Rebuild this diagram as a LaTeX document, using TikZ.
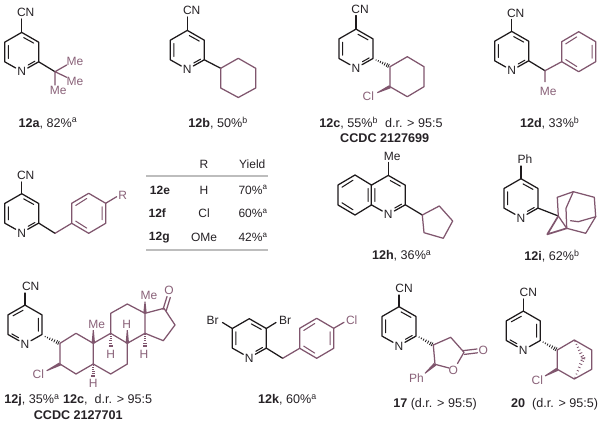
\documentclass[tikz,border=0pt]{standalone}
\usepackage{fontspec}
\setmainfont{Liberation Sans}
\definecolor{blk}{HTML}{1E1A1C}
\definecolor{mv}{HTML}{80566E}
\definecolor{mvt}{HTML}{8A6279}
\definecolor{rul}{HTML}{BDBDBD}
\definecolor{txt}{HTML}{262226}
\tikzset{
  x=1pt,y=-1pt,
  bd/.style={line width=1.25pt,blk,line cap=round,line join=round},
  ma/.style={line width=1.25pt,mv,line cap=round,line join=round},
  dbl/.style={line width=1.05pt,blk,line cap=round},
  mdbl/.style={line width=1.05pt,mv,line cap=round},
  at1/.style={inner sep=0pt,font=\fontsize{12}{14}\selectfont,text=txt},
  mat/.style={inner sep=0pt,font=\fontsize{12}{14}\selectfont,text=mvt},
  lab/.style={inner sep=0pt,font=\fontsize{12.6}{14}\selectfont,text=txt},
  rulel/.style={line width=1.6pt,rul},
}
\newcommand\spa[1]{\textsuperscript{#1}}
% pyridine ring, double bonds variant A
\newcommand\pyrA[3]{\begin{scope}[shift={(#2,#3)}]
  \draw[bd] (-6,16)--(-17,9.8)--(-17,-9.8)--(0,-19.6)--(17,-9.8)--(17,9.8)--(6,16);
  \draw[dbl] (2,-14.4)--(12,-8.9) (13.2,9.2)--(6.5,13) (-13.4,-6.5)--(-13.4,6.5);
  \node[at1] (#1) at (0,19.8) {N};
\end{scope}}
% variant B
\newcommand\pyrB[3]{\begin{scope}[shift={(#2,#3)}]
  \draw[bd] (-6,16)--(-17,9.8)--(-17,-9.8)--(0,-19.6)--(17,-9.8)--(17,9.8)--(6,16);
  \draw[dbl] (-2,-14.4)--(-12,-8.9) (-13.2,9.2)--(-6.5,13) (13.4,-6.5)--(13.4,6.5);
  \node[at1] (#1) at (0,19.8) {N};
\end{scope}}
% mauve benzene with inner bonds on UL, R and LL sides
\newcommand\phen[2]{\begin{scope}[shift={(#1,#2)}]
  \draw[ma] (-17,-10)--(0,-20)--(17,-10)--(17,10)--(0,20)--(-17,10)--cycle;
  \draw[mdbl] (-13,-7.8)--(-2,-14.8) (13.4,-6.5)--(13.4,6.5) (-13,7.8)--(-2,14.8);
\end{scope}}
% hashed bond
\newcommand\hb[5]{%
  \pgfmathsetmacro\hdx{#3-#1}\pgfmathsetmacro\hdy{#4-#2}\pgfmathsetmacro\hln{veclen(\hdx,\hdy)}
  \foreach \t in {0.08,0.24,0.40,0.56,0.72,0.88,1.0}{
    \pgfmathsetmacro\hw{0.5+1.5*\t}
    \pgfmathsetmacro\hpx{#1+\t*\hdx}\pgfmathsetmacro\hpy{#2+\t*\hdy}
    \pgfmathsetmacro\hnx{-\hdy/\hln*\hw}\pgfmathsetmacro\hny{\hdx/\hln*\hw}
    \draw[line width=.8pt,#5] ({\hpx+\hnx},{\hpy+\hny})--({\hpx-\hnx},{\hpy-\hny});
  }}
% solid wedge, narrow at first point
\newcommand\wb[5]{%
  \pgfmathsetmacro\hdx{#3-#1}\pgfmathsetmacro\hdy{#4-#2}\pgfmathsetmacro\hln{veclen(\hdx,\hdy)}
  \pgfmathsetmacro\hnx{-\hdy/\hln*1.7}\pgfmathsetmacro\hny{\hdx/\hln*1.7}
  \fill[#5] ({#1+.3*\hnx},{#2+.3*\hny})--({#3+\hnx},{#4+\hny})--({#3-\hnx},{#4-\hny})--({#1-.3*\hnx},{#2-.3*\hny})--cycle;}
\begin{document}
\begin{tikzpicture}
\useasboundingbox[fill=white] (0,0) rectangle (600,422);
% 12a
\pyrA{na}{21.7}{52}
\draw[bd] (21.7,32.4)--(21.7,19);
\node[at1] (cna) at (25.7,12.7) {CN};
\draw[bd] (38.7,61.8)--(55,71.7);
\draw[ma] (55,71.7)--(66.7,65) (55,71.7)--(66.7,77.3) (55,71.7)--(55,85);
\node[mat] (me1) at (75,61.7) {Me};
\node[mat] (me2) at (75,81.7) {Me};
\node[mat] (me3) at (58.3,90.7) {Me};
\node[lab] (la) at (48,123.3) {\textbf{12a}, 82\%\spa{a}};
% 12b
\pyrA{nb}{187.3}{50}
\draw[bd] (187.3,30.4)--(187.3,17);
\node[at1] (cnb) at (191.7,10.7) {CN};
\draw[bd] (204.3,59.8)--(220.7,68.3);
\draw[ma] (220.7,68.3)--(238.3,58.3)--(255.7,68.3)--(255.7,88)--(238.3,97.5)--(220.7,88)--cycle;
\node[lab] (lb) at (218,123.3) {\textbf{12b}, 50\%\spa{b}};
% 12c
\pyrA{nc}{356}{48.7}
\draw[bd] (356,29.1)--(356,15.5);
\node[at1] (cnc) at (360,9) {CN};
\hb{375}{59.5}{388.5}{65.8}{blk}
\draw[ma] (390,66.7)--(407.3,56.7)--(424,66.7)--(424,86.7)--(407.3,96.7)--(390,86.7)--cycle;
\wb{377.3}{92.7}{390}{86.7}{mv}
\node[mat] (clc) at (368.3,96) {Cl};
\node[lab] (lc) at (381,123.3) {\textbf{12c}, 55\%\spa{b}\ \ d.r. > 95:5};
\node[lab] (lc2) at (384.7,137.7) {\textbf{CCDC 2127699}};
% 12d
\pyrA{nd}{511.7}{51}
\draw[bd] (511.7,31.4)--(511.7,19.5);
\node[at1] (cnd) at (515.7,13.3) {CN};
\draw[bd] (528.7,60.8)--(545,70.7);
\draw[ma] (545,70.7)--(561.7,61.7) (545,70.7)--(545,81.7);
\node[mat] (med) at (548.3,91) {Me};
\phen{578.7}{51.7}
\node[lab] (ld) at (549.7,123.3) {\textbf{12d}, 33\%\spa{b}};
% 12e-g
\pyrA{ne}{21.7}{213.3}
\draw[bd] (21.7,193.7)--(21.7,182);
\node[at1] (cne) at (25.7,175.7) {CN};
\draw[bd] (38.7,223.1)--(55,233.3);
\draw[ma] (55,233.3)--(71.7,223.3);
\phen{88.7}{213.3}
\draw[ma] (105.7,203.3)--(116.7,196.7);
\node[mat] (re) at (122.7,195) {R};
% table
\node[at1] (th1) at (204,164.3) {R};
\node[at1] (th2) at (252.3,164.3) {Yield};
\draw[rulel] (146,176)--(268.3,176) (146,250)--(268.3,250);
\node[at1] (e1) at (160,190) {\textbf{12e}};
\node[at1] (e2) at (204,190) {H};
\node[at1] (e3) at (253,190) {70\%\spa{a}};
\node[at1] (f1) at (157.3,213.3) {\textbf{12f}};
\node[at1] (f2) at (204,213.3) {Cl};
\node[at1] (f3) at (253,213.3) {60\%\spa{a}};
\node[at1] (g1) at (159.3,237.3) {\textbf{12g}};
\node[at1] (g2) at (204,237.3) {OMe};
\node[at1] (g3) at (253,237.3) {42\%\spa{a}};
% 12h
\pyrA{nh}{388.3}{195}
\begin{scope}[shift={(355,195)}]
  \draw[bd] (16.7,-9.8)--(0,-20)--(-17,-10)--(-17,10)--(0,20)--(16.7,9.8);
  \draw[dbl] (-13,-7.8)--(-2,-14.8) (-13,7.8)--(-2,14.8) (13.2,-6.5)--(13.2,6.5);
\end{scope}
\draw[bd] (388.3,175.4)--(388.3,162.5);
\node[at1] (meh) at (392.3,156) {Me};
\draw[bd] (405.3,204.8)--(422.3,215);
\draw[ma] (422.3,215)--(439.3,206)--(452.7,221)--(443.3,238.3)--(424,232.7)--cycle;
\node[lab] (lh) at (401.7,256) {\textbf{12h}, 36\%\spa{a}};
% 12i
\pyrA{ni}{521}{198.3}
\draw[bd] (521,178.7)--(521,166);
\node[at1] (phi) at (525,159) {Ph};
\draw[bd] (538,208.1)--(558.3,216);
\draw[ma] (558.3,216)--(557.3,197.3)--(573.3,191.7)--(594.3,197.3)--(595.7,216.7)--(585.7,233.3)--(566.7,228.3);
\draw[ma] (573.3,191.7)--(566,208.3)--(566.7,228.3);
\draw[ma] (558.3,216)--(566.7,228.3);
\draw[ma] (595.7,216.7)--(578.3,221.7)--(570.5,220.7);
\draw[ma,line width=1.7pt] (558.3,216)--(547.3,234.3)--(566.7,228.3);
\node[lab] (li) at (552,256) {\textbf{12i}, 62\%\spa{b}};
% 12j
\pyrB{nj}{25}{324.7}
\draw[bd] (25,305.1)--(25,293);
\node[at1] (cnj) at (30.7,286) {CN};
\hb{44}{336}{58.5}{342.8}{blk}
\draw[ma] (60,343.3)--(76,333.3)--(93.3,343.3)--(93.3,364)--(76,374)--(60,364)--cycle;
\draw[ma] (93.3,343.3)--(110.7,333.3)--(127.3,343.3)--(127.3,364)--(110.7,374)--(93.3,364);
\draw[ma] (110.7,333.3)--(110.7,313.3)--(127.3,304)--(145,313.3)--(145,333.3)--(127.3,343.3);
\draw[ma] (145,313.3)--(164,308.3)--(175,325)--(163.3,340.7)--(145,333.3);
\draw[ma] (163,309.5)--(167,296.5) (166.3,310.5)--(170.3,297.5);
\node[mat] (oj) at (169,290) {O};
\wb{145}{301.7}{145}{313.3}{mv}
\node[mat] (me13) at (149,295.7) {Me};
\wb{93.3}{330}{93.3}{343.3}{mv}
\node[mat] (me10) at (96.7,324.3) {Me};
\hb{110.7}{333.3}{110.7}{346.7}{mv}
\node[mat] (h9) at (110.7,354) {H};
\wb{127.3}{330}{127.3}{343.3}{mv}
\node[mat] (h8) at (126.7,324) {H};
\hb{145}{333.3}{145}{346.7}{mv}
\node[mat] (h14) at (144,354) {H};
\hb{93.3}{364}{93.3}{376.7}{mv}
\node[mat] (h5) at (93.3,383.3) {H};
\wb{46.7}{370.7}{60}{364}{mv}
\node[mat] (clj) at (38.3,374) {Cl};
\node[lab] (lj) at (78.3,400.7) {\textbf{12j}, 35\%\spa{a} \textbf{12c},\ \ d.r. > 95:5};
\node[lab] (lj2) at (78.3,415) {\textbf{CCDC 2127701}};
% 12k
\pyrA{nk}{249.3}{338.3}
\draw[bd] (232.3,328.5)--(222.5,322.5);
\node[at1] (brl) at (212.7,320) {Br};
\draw[bd] (266.3,328.5)--(276,322.5);
\node[at1] (brr) at (285,320) {Br};
\draw[bd] (266.3,348.1)--(282.7,358.3);
\draw[ma] (282.7,358.3)--(299.7,348.3);
\phen{316.7}{338.3}
\draw[ma] (333.7,328.3)--(344,322.3);
\node[mat] (clk) at (351.7,320) {Cl};
\node[lab] (lk) at (287.5,400) {\textbf{12k}, 60\%\spa{a}};
% 17
\pyrA{n17}{399}{326.3}
\draw[bd] (399,306.7)--(399,295);
\node[at1] (cn17) at (404,288.3) {CN};
\hb{418}{336.5}{432}{344.3}{blk}
\draw[ma] (433.3,345)--(450.7,337.3)--(464,352.3)--(457.5,363.5);
\draw[ma] (449,368)--(435,364.3)--cycle (435,364.3)--(433.3,345);
\draw[ma] (463.5,350.6)--(477,349) (464.5,354.4)--(477.5,352.8);
\node[mat] (o17a) at (453.3,370) {O};
\node[mat] (o17b) at (483.3,350) {O};
\wb{425}{373.3}{435}{364.3}{mv}
\node[mat] (ph17) at (416.5,378.3) {Ph};
\node[lab] (l17) at (435,404) {\textbf{17} (d.r. > 95:5)};
% 20
\pyrB{n20}{523.3}{330.7}
\draw[bd] (523.3,311.1)--(523.3,299);
\node[at1] (cn20) at (528.3,292.3) {CN};
\hb{542}{341.5}{556}{349.2}{blk}
\draw[ma] (557.3,350)--(574.3,340)--(591.7,350)--(591.7,369.3)--(574.3,379)--(557.3,369.3)--cycle;
\wb{545}{376}{557.3}{369.3}{mv}
\node[mat] (cl20) at (537.3,380) {Cl};
\hb{574.3}{340}{583.3}{358.3}{mv}
\hb{574.3}{379}{583.3}{358.3}{mv}
\node[lab] (l20) at (554.7,404) {\textbf{20}\ \ (d.r. > 95:5)};
\end{tikzpicture}
\end{document}
